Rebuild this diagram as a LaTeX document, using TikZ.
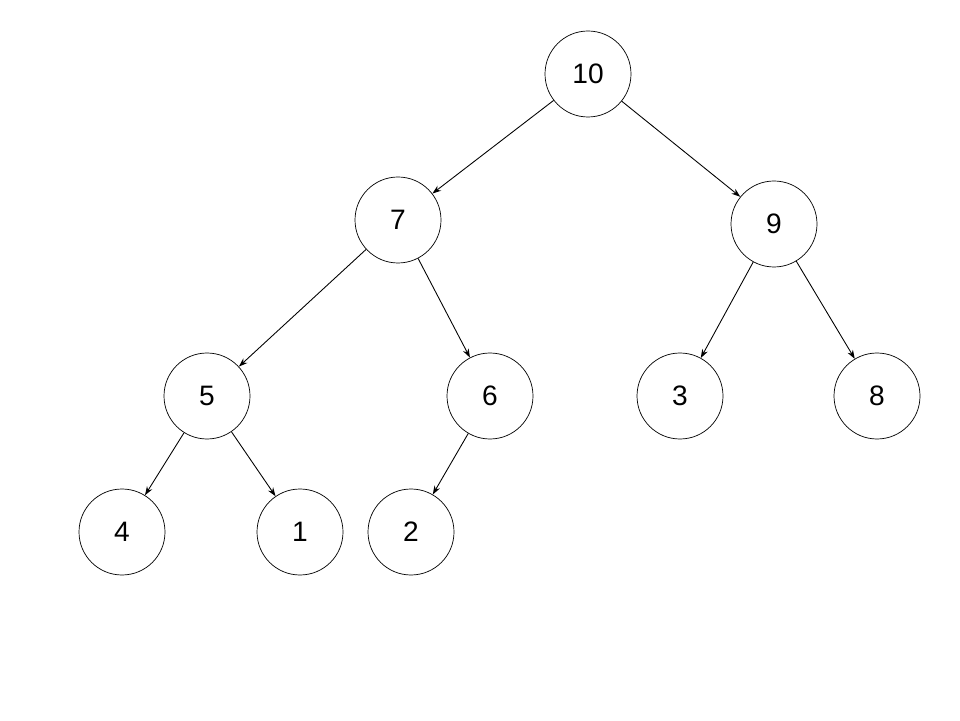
\documentclass[tikz,border=0pt]{standalone}
\usepackage{fontspec}
\setmainfont{Liberation Sans}
\usetikzlibrary{arrows.meta}

\begin{document}
\begin{tikzpicture}
        \tikzset{heapnode/.style= {draw, circle, minimum size=1.72cm, inner sep=0pt, font=\fontsize{16}{18}\selectfont},
        link/.style={draw, -{Stealth[length=5pt,width=3.5pt]}, line width=0.5pt},
        }
        \useasboundingbox (0,0) rectangle (19.2,14.4);
        \node [heapnode] (n10) at (11.76,12.92) {10};
        \node [heapnode] (n7) at (7.96,10.0) {7};
        \node [heapnode] (n9) at (15.48,9.92) {9};
        \node [heapnode] (n5) at (4.14,6.48) {5};
        \node [heapnode] (n6) at (9.80,6.48) {6};
        \node [heapnode] (n3) at (13.60,6.48) {3};
        \node [heapnode] (n8) at (17.54,6.48) {8};
        \node [heapnode] (n4) at (2.44,3.76) {4};
        \node [heapnode] (n1) at (6.00,3.76) {1};
        \node [heapnode] (n2) at (8.22,3.76) {2};

%% paths
        \path[link] (n10) edge (n7)
                    (n10) edge (n9)
                    (n7) edge (n5)
                    (n7) edge (n6)
                    (n9) edge (n3)
                    (n9) edge (n8)
                    (n5) edge (n4)
                    (n5) edge (n1)
                    (n6) edge (n2);
    \end{tikzpicture}
\end{document}
